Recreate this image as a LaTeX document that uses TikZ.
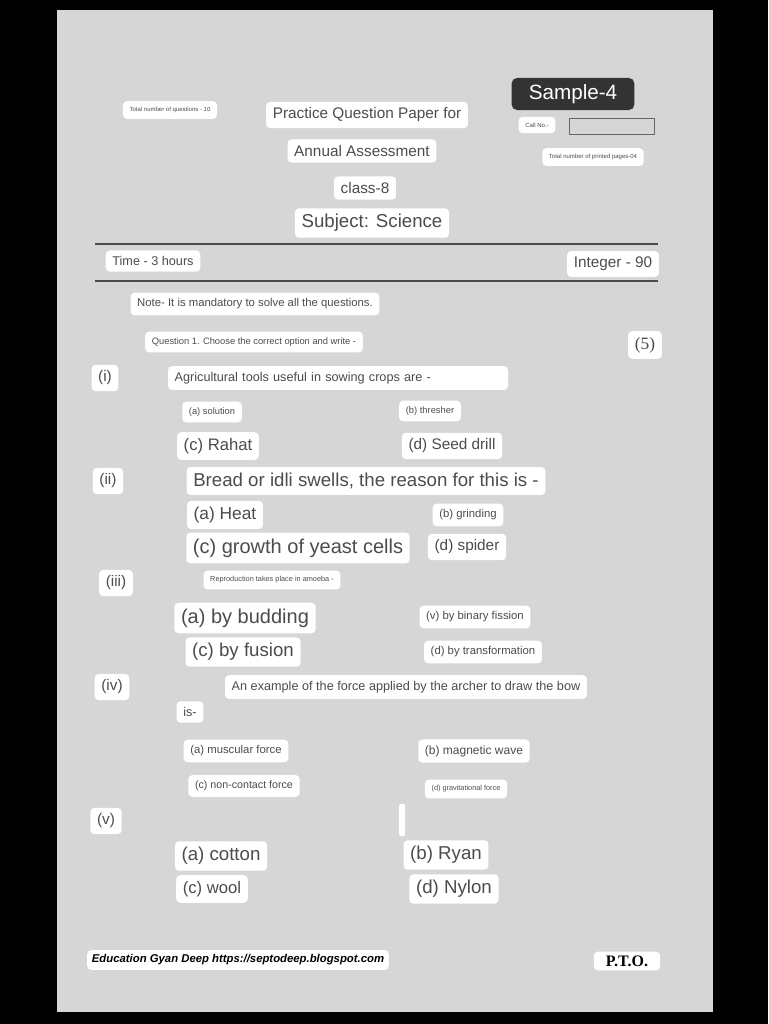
\documentclass[tikz,border=0pt]{standalone}
\usepackage{fontspec}
\setmainfont{Liberation Sans}
\newfontfamily\serifb{Liberation Serif}
\begin{document}
\begin{tikzpicture}[x=0.75pt,y=-0.75pt,
 wb/.style={fill=white,rounded corners=3pt,inner xsep=5pt,inner ysep=4.5pt,text=black!70},
 tiny/.style={wb,font=\fontsize{4.5}{5}\selectfont},
 sm/.style={wb,font=\fontsize{8.5}{10}\selectfont},
 md/.style={wb,font=\fontsize{11.5}{13}\selectfont},
 lg/.style={wb,font=\fontsize{14}{16}\selectfont}]
\useasboundingbox (0,0) rectangle (768,1024);
\fill[black] (0,0) rectangle (768,1024);
\fill[black!16] (57,10) rectangle (713,1012);
\node[tiny] (tq) at (170,110) {Total number of questions - 10};
\node[md] (pq) at (367,115) {Practice Question Paper for};
\node[fill=black!80,rounded corners=4pt,text=white,font=\fontsize{15.5}{17}\selectfont,minimum width=92pt,minimum height=24pt] (s4) at (573,94) {Sample-4};
\node[tiny] (cn) at (537,125) {Call No.-};
\node[draw=black!60,fill=black!16,minimum width=64pt,minimum height=12pt,inner sep=0pt] (cb) at (612,126) {};
\node[md] (aa) at (362,151) {Annual Assessment};
\node[tiny] (tp) at (593,157) {Total number of printed pages-04};
\node[md] (cl) at (365,188) {class-8};
\node[lg] (sub) at (372,223) {Subject: Science};
\draw[black!70,line width=1pt] (95,244) -- (658,244);
\node[md,font=\fontsize{9.5}{11}\selectfont] (tm) at (153,261) {Time - 3 hours};
\node[md] (in) at (613,264) {Integer - 90};
\draw[black!70,line width=1pt] (95,281) -- (658,281);
\node[sm] (nt) at (255,304) {Note- It is mandatory to solve all the questions.};
\node[sm,font=\fontsize{7}{8}\selectfont] (q1) at (254,342) {Question 1. Choose the correct option and write -};
\node[wb,font=\serifb\fontsize{13}{14}\selectfont] (m5) at (645,345) {(5)};
\node[md] (r1) at (105,378) {(i)};
\node[sm,font=\fontsize{9.5}{11}\selectfont,text width=245pt] (q1i) at (338,378) {Agricultural tools useful in sowing crops are -};
\node[sm,font=\fontsize{7}{8}\selectfont] (a1) at (212,412) {(a) solution};
\node[sm,font=\fontsize{7}{8}\selectfont] (b1) at (430,411) {(b) thresher};
\node[md,font=\fontsize{12.5}{14}\selectfont] (c1) at (218,446) {(c) Rahat};
\node[md] (d1) at (452,446) {(d) Seed drill};
\node[md] (r2) at (108,481) {(ii)};
\node[lg] (q2) at (366,481) {Bread or idli swells, the reason for this is -};
\node[md,font=\fontsize{13}{14}\selectfont] (a2) at (225,515) {(a) Heat};
\node[sm] (b2) at (468,515) {(b) grinding};
\node[lg,font=\fontsize{15}{17}\selectfont] (c2) at (298,548) {(c) growth of yeast cells};
\node[md] (d2) at (467,547) {(d) spider};
\node[md] (r3) at (116,583) {(iii)};
\node[tiny,font=\fontsize{5.5}{6}\selectfont] (q3) at (272,580) {Reproduction takes place in amoeba -};
\node[lg,font=\fontsize{15}{17}\selectfont] (a3) at (245,618) {(a) by budding};
\node[sm] (b3) at (475,617) {(v) by binary fission};
\node[lg] (c3) at (243,652) {(c) by fusion};
\node[sm] (d3) at (483,652) {(d) by transformation};
\node[md] (r4) at (112,687) {(iv)};
\node[sm,font=\fontsize{9.5}{11}\selectfont] (q4) at (406,687) {An example of the force applied by the archer to draw the bow};
\node[sm,font=\fontsize{9.5}{11}\selectfont] (q4b) at (190,712) {is-};
\node[sm] (a4) at (236,751) {(a) muscular force};
\node[sm,font=\fontsize{9}{10}\selectfont] (b4) at (474,751) {(b) magnetic wave};
\node[sm,font=\fontsize{8}{9}\selectfont] (c4) at (244,786) {(c) non-contact force};
\node[tiny,font=\fontsize{5.5}{6}\selectfont] (d4) at (466,789) {(d) gravitational force};
\node[md] (r5) at (106,821) {(v)};
\node[fill=white,rounded corners=1pt,minimum width=4.5pt,minimum height=24pt,inner sep=0pt] (bar) at (402,820) {};
\node[lg] (a5) at (221,856) {(a) cotton};
\node[lg] (b5) at (446,855) {(b) Ryan};
\node[md,font=\fontsize{12.5}{14}\selectfont] (c5) at (212,889) {(c) wool};
\node[lg] (d5) at (454,889) {(d) Nylon};
\node[fill=white,rounded corners=3pt,inner sep=3.5pt,text=black,font=\fontsize{8.5}{10}\selectfont\itshape\bfseries] (ft) at (238,960) {Education Gyan Deep https://septodeep.blogspot.com};
\node[fill=white,rounded corners=3pt,inner xsep=9pt,inner ysep=3pt,text=black,font=\serifb\bfseries\fontsize{12}{13}\selectfont] (pto) at (627,961) {P.T.O.};
\end{tikzpicture}
\end{document}
